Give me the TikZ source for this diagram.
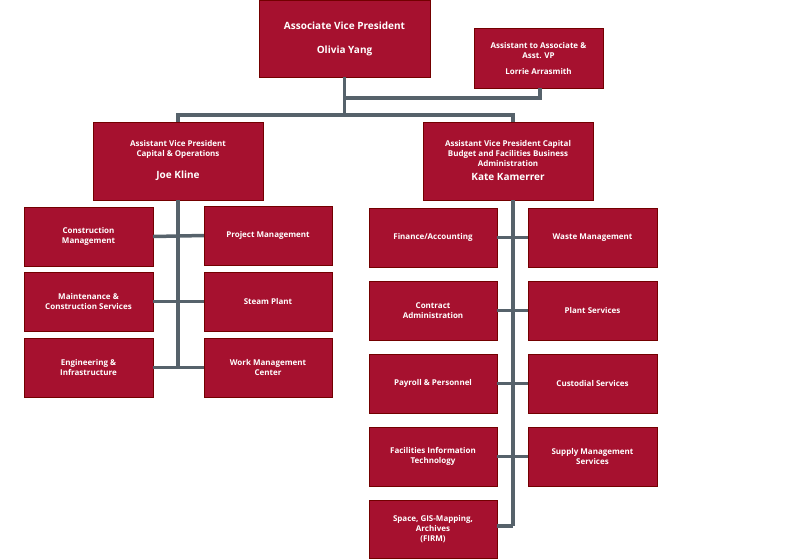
\documentclass[tikz,border=0pt]{standalone}
\usepackage{fontspec}
\setmainfont{Open Sans}
\begin{document}
\begin{tikzpicture}[x=1pt,y=-1pt,
  unit/.style={draw=red!45!black,fill=boxred,text=white,font=\bfseries\fontsize{8}{10}\selectfont,align=center,inner sep=0pt},
  link/.style={draw=linkgray,line width=3.5pt}]
  \definecolor{boxred}{HTML}{A6112F}
  \definecolor{linkgray}{HTML}{56626B}
  \useasboundingbox (0,0) rectangle (792,558);
  % top level
  \node[unit,minimum width=171,minimum height=77,font=\bfseries\fontsize{10}{13}\selectfont] (avp) at (344.5,38.5) {Associate Vice President\\[11pt]Olivia Yang};
  \node[unit,minimum width=129,minimum height=60] (asst) at (538.5,58) {Assistant to Associate \&\\Asst. VP\\[6pt]Lorrie Arrasmith};
  \node[unit,minimum width=170,minimum height=78] (joe) at (178,161) {Assistant Vice President\\Capital \& Operations\\[12pt]{\fontsize{10}{12}\selectfont Joe Kline}};
  \node[unit,minimum width=170,minimum height=78] (kate) at (508,161) {Assistant Vice President Capital\\Budget and Facilities Business\\Administration\\[4pt]{\fontsize{10}{12}\selectfont Kate Kamerrer}};
  % capital and operations
  \node[unit,minimum width=129,minimum height=59] (cm) at (88.5,236.5) {Construction\\Management};
  \node[unit,minimum width=129,minimum height=59] (mcs) at (88.5,301.5) {Maintenance \&\\Construction Services};
  \node[unit,minimum width=129,minimum height=59] (ei) at (88.5,367.5) {Engineering \&\\Infrastructure};
  \node[unit,minimum width=128,minimum height=59] (pm) at (268,235.5) {Project Management};
  \node[unit,minimum width=128,minimum height=59] (sp) at (268,301.5) {Steam Plant};
  \node[unit,minimum width=128,minimum height=59] (wmc) at (268,367.5) {Work Management\\Center};
  % budget and administration
  \node[unit,minimum width=128,minimum height=59] (fa) at (433,237.5) {Finance/Accounting};
  \node[unit,minimum width=128,minimum height=59] (ca) at (433,310.5) {Contract\\Administration};
  \node[unit,minimum width=128,minimum height=59] (pp) at (433,383.5) {Payroll \& Personnel};
  \node[unit,minimum width=128,minimum height=59] (fit) at (433,456.5) {Facilities Information\\Technology};
  \node[unit,minimum width=128,minimum height=58] (firm) at (433,529) {Space, GIS-Mapping,\\Archives\\(FIRM)};
  \node[unit,minimum width=129,minimum height=59] (wm) at (592.5,237.5) {Waste Management};
  \node[unit,minimum width=129,minimum height=59] (ps) at (592.5,310.5) {Plant Services};
  \node[unit,minimum width=129,minimum height=59] (cs) at (592.5,383.5) {Custodial Services};
  \node[unit,minimum width=129,minimum height=59] (sms) at (592.5,456.5) {Supply Management\\Services};
  % connectors
  \coordinate (hub) at (344.5,115);
  \coordinate (bend) at (540,98);
  \begin{scope}[on background layer/.style={}]
  \draw[link] (avp.south) -- (hub);
  \draw[link] (asst.south -| bend) -- (bend) -- (bend -| avp.south);
  \draw[link] (joe.north) -- (joe.north |- hub) -- (hub -| 513,0) -- (513,122);
  \draw[link] (joe.south) -- (178,367.5);
  \draw[link] (cm.east) -- (pm.west);
  \draw[link] (mcs.east) -- (sp.west);
  \draw[link] (ei.east) -- (wmc.west);
  \draw[link] (513,200) -- (513,526);
  \draw[link] (fa.east) -- (wm.west);
  \draw[link] (ca.east) -- (ps.west);
  \draw[link] (pp.east) -- (cs.west);
  \draw[link] (fit.east) -- (sms.west);
  \draw[link] (firm.east |- 0,526) -- (513,526);
  \end{scope}
\end{tikzpicture}
\end{document}
